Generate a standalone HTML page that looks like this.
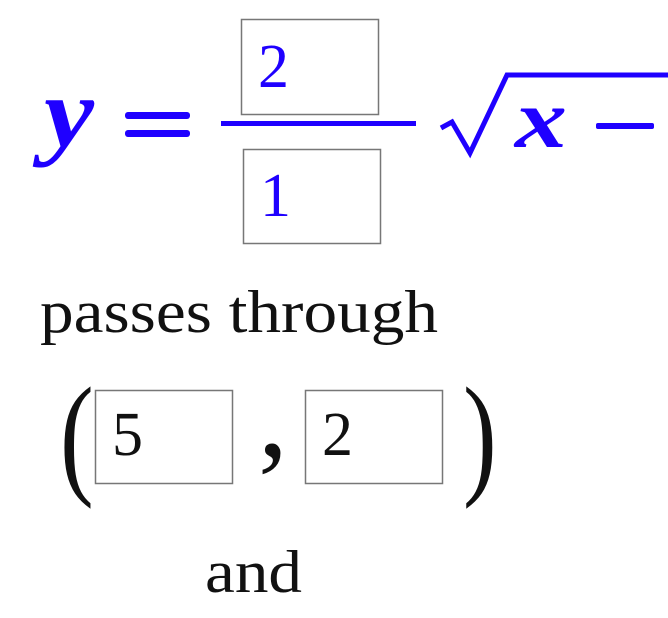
<!DOCTYPE html>
<html><head><meta charset="utf-8"><style>
html,body{margin:0;padding:0;background:#fff;width:668px;height:618px;overflow:hidden}
</style></head><body>
<svg width="668" height="618" viewBox="0 0 668 618" xmlns="http://www.w3.org/2000/svg" font-family="Liberation Serif, serif">
<!-- y = -->
<text x="44" y="146" font-size="100" font-style="italic" font-weight="bold" fill="#1f00ff" textLength="50" lengthAdjust="spacingAndGlyphs">y</text>
<rect x="125" y="112" width="65" height="7" rx="3" fill="#1f00ff"/>
<rect x="125" y="130" width="65" height="7" rx="3" fill="#1f00ff"/>
<!-- fraction -->
<rect x="241.5" y="19.5" width="137" height="95" fill="#fff" stroke="#777" stroke-width="1.5"/>
<text x="258" y="87" font-size="62" fill="#1f00ff">2</text>
<rect x="221" y="121" width="195" height="5" fill="#1f00ff"/>
<rect x="243.5" y="149.5" width="137" height="94" fill="#fff" stroke="#777" stroke-width="1.5"/>
<text x="260" y="216" font-size="62" fill="#1f00ff">1</text>
<!-- sqrt -->
<path d="M441 128 L452 122 L470 153 L507 75 L668 75" fill="none" stroke="#1f00ff" stroke-width="5" stroke-linejoin="miter"/>
<text x="515" y="147" font-size="84" font-style="italic" font-weight="bold" fill="#1f00ff" textLength="52" lengthAdjust="spacingAndGlyphs">x</text>
<rect x="596" y="123" width="58" height="6" rx="2" fill="#1f00ff"/>
<!-- passes through -->
<text x="40" y="332" font-size="60" fill="#111" textLength="398" lengthAdjust="spacingAndGlyphs">passes through</text>
<!-- point -->
<text transform="translate(60,480) scale(0.75,1)" font-size="135" fill="#111">(</text>
<rect x="95.5" y="390.5" width="137" height="93" fill="#fff" stroke="#777" stroke-width="1.5"/>
<text x="112" y="455" font-size="62" fill="#111">5</text>
<text x="258" y="456" font-size="120" fill="#111">,</text>
<rect x="305.5" y="390.5" width="137" height="93" fill="#fff" stroke="#777" stroke-width="1.5"/>
<text x="322" y="455" font-size="62" fill="#111">2</text>
<text transform="translate(463,480) scale(0.75,1)" font-size="135" fill="#111">)</text>
<!-- and -->
<text x="205" y="592" font-size="60" fill="#111" textLength="97" lengthAdjust="spacingAndGlyphs">and</text>
</svg>
</body></html>
